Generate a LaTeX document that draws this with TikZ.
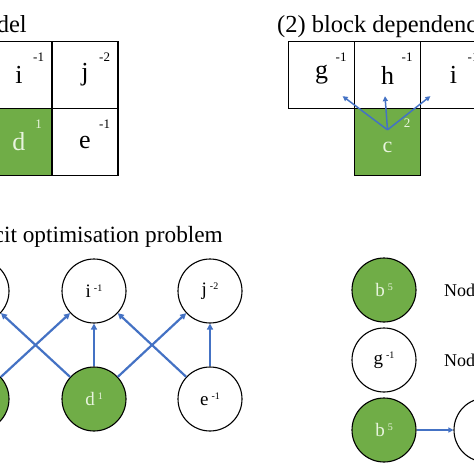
\documentclass[tikz,border=0pt]{standalone}
\usepackage{fontspec}
\setmainfont{Liberation Serif}
\usetikzlibrary{positioning, arrows.meta}
\definecolor{nodegreen}{RGB}{112,173,71}
\definecolor{linkblue}{RGB}{68,114,196}
\definecolor{paletext}{RGB}{232,244,222}
\newcommand{\nodetxt}[2]{{\fontsize{19}{19}\selectfont #1}\hspace{3pt}\raisebox{6pt}{\fontsize{10}{10}\selectfont #2}}

\begin{document}
\begin{tikzpicture}
    [
        x=1pt, y=-1pt, node distance=67pt and 66pt, on grid,
        title/.style={font=\fontsize{24.5}{27}\selectfont, inner sep=0pt},
        cell/.style={rectangle, draw=black, line width=1.3pt, minimum width=66pt, minimum height=67pt, inner sep=0pt, font=\fontsize{26}{26}\selectfont},
        green_cell/.style={cell, fill=nodegreen, text=paletext},
        supr/.style={anchor=center, inner sep=0pt, xshift=-14pt, yshift=-16pt, font=\fontsize{13}{13}\selectfont},
        white_node/.style={circle, draw=black, line width=1.1pt, fill=white, minimum size=64pt, inner sep=0pt},
        green_node/.style={white_node, fill=nodegreen, text=paletext},
        link/.style={-{Triangle[length=6pt, width=6pt]}, line width=2.2pt, color=linkblue},
        thin_link/.style={-{Triangle[length=5pt, width=5pt]}, line width=1.5pt, color=linkblue},
        legtxt/.style={font=\fontsize{18}{20}\selectfont, inner sep=0pt, anchor=west},
    ]
        \useasboundingbox (0,0) rectangle (474,474);
        % titles
        \node[title, anchor=base east] (t1) at (27,32) {(1) model};
        \node[title, anchor=base west] (t2) at (277,32) {(2) block dependency};
        \node[title, anchor=base east, font=\fontsize{23.3}{26}\selectfont] (t3) at (223,242) {(3) explicit optimisation problem};
        % (1) grid
        \node[cell, label={[supr]north east:-1}] (ai) at (19,75) {i};
        \node[cell, label={[supr]north east:-2}] (aj) [right = of ai] {j};
        \node[green_cell, label={[supr, text=paletext]north east:1}] (ad) [below = of ai] {d};
        \node[cell, label={[supr]north east:-1}] (ae) [below = of aj] {e};
        % (2) block dependency
        \node[cell, label={[supr]north east:-1}] (bh) at (387.5,75) {h};
        \node[cell, label={[supr]north east:-1}] (bg) [left = of bh] {g};
        \node[cell, label={[supr]north east:-1}] (bi) [right = of bh] {i};
        \node[green_cell, label={[anchor=center, yshift=-5pt, text=paletext, font=\fontsize{22}{22}\selectfont]center:c},
              label={[supr, text=paletext, yshift=1pt]north east:2}] (bc) [below = of bh] {};
        \coordinate (corg) at ([yshift=-22pt]bc.north);
        \coordinate (tg) at ([xshift=-12.5pt, yshift=13pt]bg.south east);
        \coordinate (th) at ([xshift=-2.5pt, yshift=13pt]bh.south);
        \coordinate (ti) at ([xshift=10.5pt, yshift=13pt]bi.south west);
        \draw[thin_link] (corg) -- (tg) ;
        \draw[thin_link] (corg) -- (th) ;
        \draw[thin_link] (corg) -- (ti) ;
        % (3) graph
        \node[white_node] (ri) at (94,291) {\nodetxt{i}{-1}};
        \node[white_node] (rj) [right = 116pt of ri] {\nodetxt{j}{-2}};
        \node[white_node] (rh) [left = 117pt of ri] {\nodetxt{h}{-1}};
        \node[green_node] (rd) [below = 108pt of ri] {\nodetxt{d}{1}};
        \node[green_node] (rc) [below = 108pt of rh] {\nodetxt{c}{2}};
        \node[white_node] (re) [below = 108pt of rj] {\nodetxt{e}{-1}};
        \draw[link] (rc) -- (ri) ;
        \draw[link] (rd) -- (rh) ;
        \draw[link] (rd) -- (ri) ;
        \draw[link] (rd) -- (rj) ;
        \draw[link] (re) -- (ri) ;
        \draw[link] (re) -- (rj) ;
        % legend
        \node[green_node] (lb) at (384,290) {\nodetxt{b}{5}};
        \node[white_node] (lg) [below = 70pt of lb] {\nodetxt{g}{-1}};
        \node[green_node] (lb2) [below = 70pt of lg] {\nodetxt{b}{5}};
        \node[white_node] (lx) [right = 102pt of lb2] {};
        \draw[thin_link] (lb2) -- (lx) ;
        \node[legtxt] (lt1) at ([xshift=60pt]lb.center) {Node};
        \node[legtxt] (lt2) at ([xshift=60pt]lg.center) {Node};
    \end{tikzpicture}
\end{document}
